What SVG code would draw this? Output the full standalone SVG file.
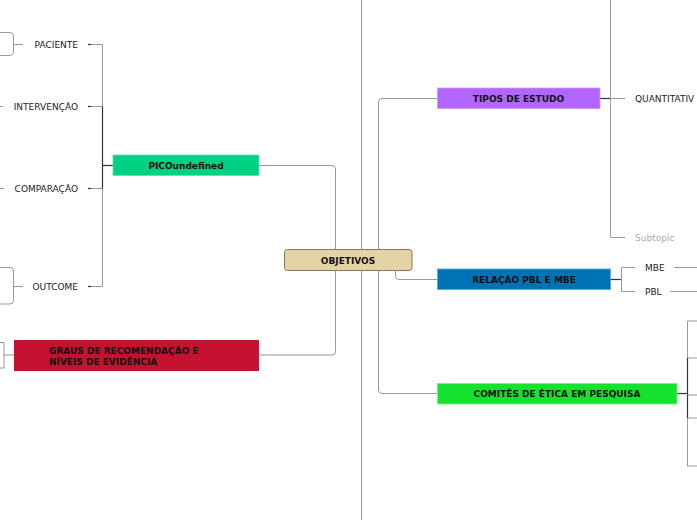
<svg xmlns="http://www.w3.org/2000/svg" width="697" height="520" viewBox="0 0 697 520">
<style>
.c{fill:none;stroke:#999;stroke-width:1}
.d{fill:none;stroke:#333;stroke-width:1.2}
.t{font-family:"DejaVu Sans",Verdana,sans-serif;font-size:9px;fill:#222}
.b{font-family:"DejaVu Sans",Verdana,sans-serif;font-size:9px;font-weight:bold;fill:#111}
</style>
<rect width="697" height="520" fill="#fff"/>
<g id="connectors">
<line class="c" x1="361.5" y1="0" x2="361.5" y2="520"/>
<!-- OBJETIVOS to PICO / GRAUS -->
<path class="c" d="M259,165.5 H332 Q335.5,165.5 335.5,169 V351.5 Q335.5,355 332,355 H259"/>
<!-- OBJETIVOS to TIPOS / COMITES -->
<path class="c" d="M437,98.5 H382 Q378.5,98.5 378.5,102 V390 Q378.5,393.5 382,393.5 H437"/>
<!-- OBJETIVOS to RELACAO -->
<path class="c" d="M395.5,270 V276 Q395.5,279.5 399,279.5 H437"/>
<!-- PICO children -->
<path class="c" d="M89,44.5 H102.5 V286.5 H89"/>
<line class="c" x1="89" y1="106.5" x2="102.5" y2="106.5"/>
<line class="c" x1="89" y1="188.5" x2="102.5" y2="188.5"/>
<line class="d" x1="102.5" y1="106.5" x2="102.5" y2="188.5"/>
<line class="d" x1="102.5" y1="165.5" x2="113" y2="165.5"/>
<g stroke="#333" stroke-width="1.2">
<line x1="88" y1="44.5" x2="91" y2="44.5"/>
<line x1="88" y1="106.5" x2="91" y2="106.5"/>
<line x1="88" y1="188.5" x2="91" y2="188.5"/>
<line x1="88" y1="286.5" x2="91" y2="286.5"/>
</g>
<!-- grandchild stubs on left -->
<path class="c" d="M0,32.5 H10 Q13.5,32.5 13.5,36 V52 Q13.5,55.5 10,55.5 H0"/>
<line class="c" x1="13.5" y1="44.5" x2="23" y2="44.5"/>
<line class="c" x1="0" y1="106.5" x2="3" y2="106.5"/>
<line class="c" x1="0" y1="188.5" x2="4" y2="188.5"/>
<path class="c" d="M0,267.5 H10 Q13.5,267.5 13.5,271 V300.5 Q13.5,304 10,304 H0"/>
<line class="c" x1="13.5" y1="286.5" x2="23" y2="286.5"/>
<path class="c" d="M0,342.5 H4 V368 H0"/>
<line class="c" x1="4" y1="355" x2="14" y2="355"/>
<!-- TIPOS children -->
<line class="d" x1="600" y1="98.5" x2="610.5" y2="98.5"/>
<line class="c" x1="610.5" y1="0" x2="610.5" y2="237.5"/>
<line class="c" x1="610.5" y1="98.5" x2="625" y2="98.5"/>
<line class="c" x1="610.5" y1="237.5" x2="625" y2="237.5"/>
<!-- RELACAO children -->
<line class="d" x1="610" y1="279.5" x2="621" y2="279.5"/>
<path class="c" d="M635,267.5 H621.5 V291.5 H635"/>
<line class="c" x1="674" y1="267.5" x2="697" y2="267.5"/>
<line class="c" x1="670" y1="291.5" x2="697" y2="291.5"/>
<!-- COMITES children -->
<line class="d" x1="677" y1="393.5" x2="687.5" y2="393.5"/>
<path class="c" d="M697,321 H687.5 V466 H697"/>
<line class="d" x1="687.5" y1="358" x2="687.5" y2="418"/>
<line class="c" x1="687.5" y1="358" x2="697" y2="358"/>
<line class="c" x1="687.5" y1="395" x2="697" y2="395"/>
<line class="c" x1="687.5" y1="418" x2="697" y2="418"/>
</g>
<g id="objetivos">
<rect x="284.5" y="249.5" width="127.5" height="21" rx="3" fill="#e4d3a5" stroke="#8a7a55" stroke-width="1"/>
<text class="b" x="348" y="264" text-anchor="middle">OBJETIVOS</text>
</g>
<g id="pico">
<rect x="113" y="155" width="146" height="20.5" fill="#00d084" stroke="#5ee0b0" stroke-width="0.8"/>
<text class="b" x="186" y="168.5" text-anchor="middle">PICOundefined</text>
</g>
<g id="graus">
<rect x="14" y="340" width="245" height="31" fill="#c41230"/>
<text class="b" x="49" y="353.5">GRAUS DE RECOMENDAÇÃO E</text>
<text class="b" x="49" y="364.5">NÍVEIS DE EVIDÊNCIA</text>
</g>
<g id="tipos">
<rect x="437.5" y="88" width="162.5" height="20.5" fill="#b266ff" stroke="#c99aff" stroke-width="0.8"/>
<text class="b" x="518.5" y="101.5" text-anchor="middle">TIPOS DE ESTUDO</text>
</g>
<g id="relacao">
<rect x="437.5" y="269" width="173" height="20.5" fill="#0073b7" stroke="#5aa8d8" stroke-width="0.8"/>
<text class="b" x="524" y="282.5" text-anchor="middle">RELAÇÃO PBL E MBE</text>
</g>
<g id="comites">
<rect x="437.5" y="383.5" width="239.5" height="20.5" fill="#14e22e" stroke="#7af08a" stroke-width="0.8"/>
<text class="b" x="557" y="397" text-anchor="middle">COMITÊS DE ÉTICA EM PESQUISA</text>
</g>
<g id="paciente"><text class="t" x="78" y="47.5" text-anchor="end">PACIENTE</text></g>
<g id="intervencao"><text class="t" x="78" y="109.5" text-anchor="end">INTERVENÇÃO</text></g>
<g id="comparacao"><text class="t" x="78" y="191.5" text-anchor="end">COMPARAÇÃO</text></g>
<g id="outcome"><text class="t" x="78" y="289.5" text-anchor="end">OUTCOME</text></g>
<g id="quantitativ"><text class="t" x="635" y="101.5">QUANTITATIV</text></g>
<g id="subtopic"><text class="t" x="635" y="240.5" fill="#999" style="fill:#aaa">Subtopic</text></g>
<g id="mbe"><text class="t" x="645" y="270.5">MBE</text></g>
<g id="pbl"><text class="t" x="645" y="294.5">PBL</text></g>
</svg>
